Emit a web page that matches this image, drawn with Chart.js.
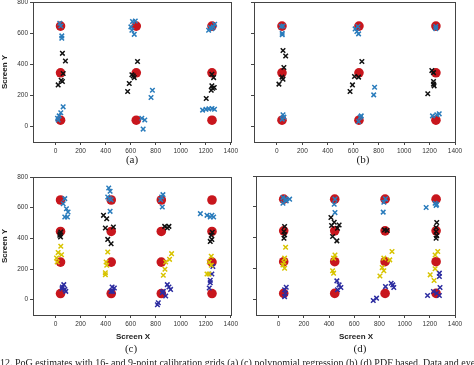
<!DOCTYPE html>
<html>
<head>
<meta charset="utf-8">
<script src="https://cdn.jsdelivr.net/npm/chart.js@4/dist/chart.umd.min.js"></script>
<style>
  html, body { margin:0; padding:0; background:#fff; width:474px; height:365px; overflow:hidden; position:relative; }
  .panel { position:absolute; }
  .lbl { position:absolute; font-family:"Liberation Serif", serif; font-size:11px; color:#222; transform:translateX(-50%); white-space:nowrap; }
  .axt { position:absolute; font-family:"Liberation Sans", Arial, sans-serif; font-size:8px; font-weight:bold; color:#222; transform:translateX(-50%); white-space:nowrap; }
  #cap { position:absolute; left:0; top:357px; font-family:"Liberation Serif", serif; font-size:10px; color:#222; white-space:nowrap; }
</style>
</head>
<body>
<div class="panel" style="left:0px; top:-6px; width:240px; height:176px;"><canvas id="ca"></canvas></div>
<div class="panel" style="left:246px; top:-6px; width:228px; height:176px;"><canvas id="cb"></canvas></div>
<div class="panel" style="left:0px; top:169px; width:240px; height:166px;"><canvas id="cc"></canvas></div>
<div class="panel" style="left:248px; top:168px; width:226px; height:167px;"><canvas id="cd"></canvas></div>
<div class="lbl" style="left:132px; top:153px;">(a)</div>
<div class="lbl" style="left:363px; top:153px;">(b)</div>
<div class="axt" style="left:133px; top:332px;">Screen X</div>
<div class="axt" style="left:356px; top:332px;">Screen X</div>
<div class="lbl" style="left:131px; top:342px;">(c)</div>
<div class="lbl" style="left:360px; top:342px;">(d)</div>
<div id="cap">12. PoG estimates with 16- and 9-point calibration grids (a) (c) polynomial regression (b) (d) PDF based. Data and eye</div>
<script>
// ---- tick labels ----
const xTickVals = [0, 200, 400, 600, 800, 1000, 1200, 1400];
const yTickVals = [0, 200, 400, 600, 800];

// ---- calibration targets ----
const grid9X = [40, 645, 1250];
const grid9Y = [40, 345, 645];
const grid16X = [40, 445, 845, 1250];
const grid16Y = [40, 245, 445, 650];

// ---- (a) polynomial regression, 9-point ----
const aBlue = [[34,663],[42,646],[50,582],[50,567],[61,126],[42,88],[29,68],[16,53],[21,41],
  [615,674],[637,678],[602,640],[610,618],[629,592],[689,53],[713,41],[700,-17],[774,233],[763,186],
  [1223,618],[1250,629],[1271,657],[1260,640],[1236,635],[1175,105],[1202,111],[1225,113],[1250,115],[1270,111]];
const aBlack = [[55,470],[79,421],[61,340],[45,297],[55,289],[21,267],
  [655,417],[621,325],[610,332],[629,314],[589,276],[576,225],
  [1204,180],[1263,314],[1249,336],[1249,261],[1255,246],[1244,233],[1268,250]];

// ---- (b) PDF based, 9-point ----
const bBlue = [[34,642],[48,646],[42,599],[42,590],[48,75],[55,60],[42,47],
  [637,642],[615,627],[629,610],[642,595],[663,68],[655,60],[642,32],[768,252],[761,203],
  [1249,642],[1249,629],[1223,68],[1257,75],[1276,81]];
const bBlack = [[48,488],[69,453],[55,379],[40,317],[48,304],[16,272],
  [668,417],[610,321],[642,317],[594,267],[575,225],
  [1218,359],[1231,346],[1231,289],[1231,272],[1236,261],[1186,210]];

// ---- (c) polynomial regression, 16-point ----
const cBlue = [[74,659],[61,626],[87,593],[100,572],[74,539],[95,539],
  [425,728],[436,707],[417,670],[430,659],[444,652],[436,576],
  [858,685],[848,670],[840,652],[853,604],
  [1157,561],[1210,550],[1236,539],[1249,550],[1263,539]];
const cBlack = [[42,441],[34,420],[40,409],[36,430],
  [383,550],[409,528],[398,467],[462,474],[417,393],[444,365],
  [872,478],[906,478],[893,467],
  [1244,420],[1249,393],[1236,380],[1252,440]];
const cYellow = [[42,348],[21,307],[48,293],[8,272],[13,246],
  [417,311],[404,246],[409,224],[398,176],[398,163],
  [927,300],[911,263],[880,246],[874,198],[861,159],
  [1244,283],[1228,246],[1244,224],[1210,167],[1226,167]];
const cNavy = [[55,83],[66,98],[74,67],[82,54],[52,72],
  [452,83],[470,76],[457,54],[444,54],
  [893,98],[906,83],[919,67],[861,54],[853,46],[880,24],[821,-20],[814,-33],
  [1249,167],[1257,217],[1236,126],[1236,111],[1228,76]];

// ---- (d) PDF based, 16-point ----
const dBlue = [[34,660],[53,652],[87,650],[34,624],[60,639],
  [447,650],[441,617],[447,563],
  [848,652],[835,630],[830,566],
  [1171,596],[1242,624],[1250,609],[1254,616]];
const dBlack = [[47,473],[42,440],[47,419],[42,397],
  [415,531],[441,501],[420,479],[480,483],[467,462],[428,408],[462,380],
  [840,451],[861,447],
  [1255,499],[1250,466],[1250,440],[1255,414],[1250,397]];
const dYellow = [[55,339],[47,268],[42,242],[34,224],[47,203],
  [447,289],[436,268],[428,186],[436,171],
  [835,268],[882,257],[900,311],[822,207],[835,186],[804,153],
  [1263,311],[1242,289],[1242,199],[1203,160],[1234,123]];
const dNavy = [[60,80],[47,63],[53,41],[47,19],
  [462,121],[480,95],[494,78],[467,63],
  [893,106],[906,95],[914,78],[848,84],[777,9],[751,-6],
  [1276,171],[1276,149],[1281,78],[1229,52],[1255,41],[1276,26],[1182,26]];

// ---- colours ----
const RED = '#c8161d', BLUE = '#2a7cbc', BLACK = '#111111', YELLOW = '#d8c400', NAVY = '#2c2ca0';

function gridPts(xs, ys) { const p = []; ys.forEach(y => xs.forEach(x => p.push({x, y}))); return p; }
function pts(arr) { return arr.map(([x, y]) => ({x, y})); }
function crossDs(arr, color) {
  return { data: pts(arr), pointStyle: 'crossRot', pointRadius: 3.2, pointBorderWidth: 1.5,
           borderColor: color, backgroundColor: color, showLine: false, order: 1 };
}
function targetDs(xs, ys) {
  return { data: gridPts(xs, ys), pointStyle: 'circle', pointRadius: 4.8, pointBorderWidth: 0,
           backgroundColor: RED, borderColor: RED, showLine: false, order: 5 };
}

const framePlugin = {
  id: 'frame',
  afterDatasetsDraw(chart) {
    const a = chart.chartArea, ctx = chart.ctx;
    ctx.save(); ctx.strokeStyle = '#444'; ctx.lineWidth = 1;
    ctx.strokeRect(Math.round(a.left) + 0.5, Math.round(a.top) + 0.5, Math.round(a.right - a.left), Math.round(a.bottom - a.top));
    ctx.restore();
  }
};

const tickFont = { family: '"Liberation Sans", Arial, sans-serif', size: 6.5 };
const plain = v => String(v);

function make(id, datasets, o) {
  new Chart(document.getElementById(id), {
    type: 'scatter',
    data: { datasets },
    plugins: [framePlugin],
    options: {
      responsive: true, maintainAspectRatio: false, animation: false,
      layout: { padding: { top: 8, right: o.padRight, left: 0, bottom: 0 } },
      plugins: { legend: { display: false }, tooltip: { enabled: false } },
      scales: {
        x: {
          type: 'linear', min: -180, max: 1400,
          afterBuildTicks: s => { s.ticks = xTickVals.map(v => ({ value: v })); },
          afterFit: s => { s.height = o.xH; },
          grid: { drawOnChartArea: false, tickLength: 3, color: '#444' },
          border: { color: '#444' },
          ticks: { font: tickFont, color: '#333', padding: 2, maxRotation: 0, autoSkip: false, callback: plain }
        },
        y: {
          type: 'linear', min: -100, max: 800,
          afterBuildTicks: s => { s.ticks = yTickVals.map(v => ({ value: v })); },
          afterFit: s => { s.width = o.yW; },
          grid: { drawOnChartArea: false, tickLength: 3, color: '#444' },
          border: { color: '#444' },
          ticks: { display: o.yLabels, font: tickFont, color: '#333', padding: 2, callback: plain },
          title: { display: o.yLabels, text: 'Screen Y', color: '#222', padding: 0,
                   font: { family: '"Liberation Sans", Arial, sans-serif', size: 8, weight: 'bold' } }
        }
      }
    }
  });
}

make('ca', [targetDs(grid9X, grid9Y), crossDs(aBlue, BLUE), crossDs(aBlack, BLACK)],
     { padRight: 8, xH: 28, yW: 33, yLabels: true });
make('cb', [targetDs(grid9X, grid9Y), crossDs(bBlue, BLUE), crossDs(bBlack, BLACK)],
     { padRight: 19, xH: 28, yW: 8, yLabels: false });
make('cc', [targetDs(grid16X, grid16Y), crossDs(cBlue, BLUE), crossDs(cBlack, BLACK), crossDs(cYellow, YELLOW), crossDs(cNavy, NAVY)],
     { padRight: 8, xH: 20, yW: 33, yLabels: true });
make('cd', [targetDs(grid16X, grid16Y), crossDs(dBlue, BLUE), crossDs(dBlack, BLACK), crossDs(dYellow, YELLOW), crossDs(dNavy, NAVY)],
     { padRight: 19, xH: 20, yW: 8, yLabels: false });
</script>
</body>
</html>
